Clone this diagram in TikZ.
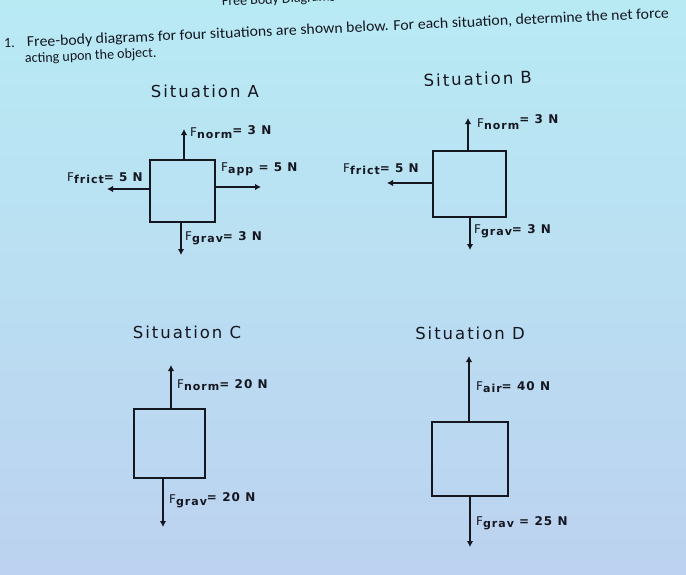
\documentclass[tikz,border=0pt]{standalone}
\usepackage{fontspec}
\setmainfont{Carlito}
\newfontfamily\sitfont{DejaVu Sans}[LetterSpace=12]
\newfontfamily\lblfont{DejaVu Sans}[LetterSpace=9]
\usetikzlibrary{arrows.meta}

\definecolor{ink}{RGB}{20,22,32}
\definecolor{papertop}{RGB}{184,234,244}
\definecolor{paperbot}{RGB}{188,210,240}

\newcommand{\fs}[1]{\raisebox{-0.4ex}{\fontsize{11}{12}\selectfont\bfseries #1}}

\tikzset{
  body/.style={draw=ink, line width=2pt, inner sep=0pt},
  force/.style={draw=ink, line width=1.8pt, -{Latex[length=6pt,width=6.5pt]}},
  flabel/.style={anchor=base west, inner sep=0pt, text=ink, font=\lblfont\fontsize{12}{13}\selectfont\bfseries},
  sitlabel/.style={anchor=base, inner sep=0pt, text=ink, font=\sitfont\fontsize{16.5}{19}\selectfont},
  qtext/.style={anchor=base west, inner sep=0pt, text=ink, font=\fontsize{14}{16}\selectfont}
}

\begin{document}
\begin{tikzpicture}[x=1pt,y=-1pt]

\shade[top color=papertop, bottom color=paperbot] (0,0) rectangle (686,574);
\useasboundingbox (0,0) rectangle (686,574);

\begin{scope}
\clip (0,0) rectangle (686,574);
\node[qtext, rotate=2.6] (top) at (222,6) {Free Body Diagrams};
\end{scope}

\node[qtext] (num) at (4,47) {1.};
\node[qtext, font=\fontsize{15}{16}\selectfont, rotate=2.6] (q1) at (27,47) {\scalebox{1.055}[1]{Free-body diagrams for four situations are shown below. For each situation, determine the net force}};
\node[qtext, rotate=2.6] (q2) at (25,63) {acting upon the object.};

% Situation A
\node[sitlabel] (sitA) at (205,97) {Situation A};
\node[body, minimum width=65pt, minimum height=62pt] (boxA) at (182.5,191) {};
\coordinate (upA) at (184,129);
\coordinate (rtA) at (261,187);
\coordinate (ltA) at (107,189);
\coordinate (dnA) at (181,255);
\draw[force] (boxA.north -| upA) -- (upA);
\draw[force] (boxA.east |- rtA) -- (rtA);
\draw[force] (boxA.west |- ltA) -- (ltA);
\draw[force] (boxA.south -| dnA) -- (dnA);
\node[flabel] (normA) at (190,136) {{\mdseries F}\fs{norm}\raisebox{2pt}{= 3 N}};
\node[flabel] (appA) at (221,171) {{\mdseries F}\fs{app} = 5 N};
\node[flabel] (frictA) at (67,181) {{\mdseries F}\fs{frict}= 5 N};
\node[flabel] (gravA) at (185,240) {{\mdseries F}\fs{grav}= 3 N};

% Situation B
\node[sitlabel, rotate=2] (sitB) at (478,85) {Situation B};
\node[body, minimum width=73pt, minimum height=66pt] (boxB) at (469.5,184) {};
\coordinate (upB) at (468,118);
\coordinate (ltB) at (387,183);
\coordinate (dnB) at (470,250);
\draw[force] (boxB.north -| upB) -- (upB);
\draw[force] (boxB.west |- ltB) -- (ltB);
\draw[force] (boxB.south -| dnB) -- (dnB);
\node[flabel] (normB) at (477,127) {{\mdseries F}\fs{norm}\raisebox{4pt}{= 3 N}};
\node[flabel] (frictB) at (343,172) {{\mdseries F}\fs{frict}= 5 N};
\node[flabel] (gravB) at (474,233) {{\mdseries F}\fs{grav}= 3 N};

% Situation C
\node[sitlabel] (sitC) at (187,338) {Situation C};
\node[body, minimum width=71pt, minimum height=69pt] (boxC) at (169.5,443.5) {};
\coordinate (upC) at (171,365);
\coordinate (dnC) at (163,527);
\draw[force] (boxC.north -| upC) -- (upC);
\draw[force] (boxC.south -| dnC) -- (dnC);
\node[flabel] (normC) at (177,388) {{\mdseries F}\fs{norm}= 20 N};
\node[flabel] (gravC) at (169,503) {{\mdseries F}\fs{grav}\raisebox{2pt}{= 20 N}};

% Situation D
\node[sitlabel] (sitD) at (470,339) {Situation D};
\node[body, minimum width=76pt, minimum height=74pt] (boxD) at (470,459) {};
\coordinate (upD) at (469,356);
\coordinate (dnD) at (470,547);
\draw[force] (boxD.north -| upD) -- (upD);
\draw[force] (boxD.south -| dnD) -- (dnD);
\node[flabel] (airD) at (476,390) {{\mdseries F}\fs{air}= 40 N};
\node[flabel] (gravD) at (476,525) {{\mdseries F}\fs{grav} = 25 N};

\end{tikzpicture}
\end{document}
